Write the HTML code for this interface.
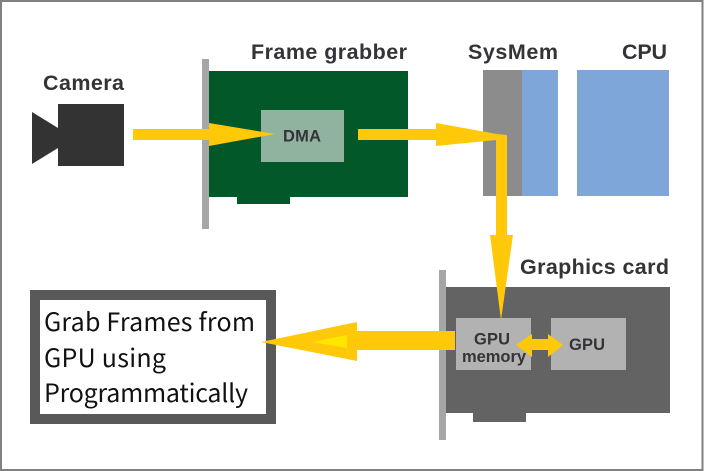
<!DOCTYPE html>
<html>
<head>
<meta charset="utf-8">
<style>
html,body{margin:0;padding:0;width:704px;height:471px;overflow:hidden;background:#fff}
svg{display:block}
.l{font-family:"Liberation Sans",sans-serif;font-weight:700;fill:#333338}
.t{font-family:"Noto Sans CJK JP","Liberation Sans",sans-serif;font-size:25px;fill:#111}
</style>
</head>
<body>
<svg width="704" height="471" viewBox="0 0 704 471" xmlns="http://www.w3.org/2000/svg">
<rect width="704" height="471" fill="#fff"/>
<rect x="1" y="1" width="701.5" height="469" fill="none" stroke="#808080" stroke-width="2"/>

<!-- Camera -->
<rect x="58" y="104" width="66" height="62" fill="#333333"/>
<polygon points="32,112 58,128 58,148 32,164" fill="#333333"/>
<text class="l" x="43" y="90" font-size="21.5" textLength="81" lengthAdjust="spacing">Camera</text>

<!-- Frame grabber -->
<rect x="202" y="59" width="7" height="170" fill="#a6a6a6"/>
<rect x="209" y="71" width="199" height="126" fill="#03582a"/>
<rect x="237" y="197" width="53" height="7" fill="#03582a"/>
<rect x="261" y="110" width="83" height="52" fill="#8fb39f"/>
<text class="l" x="283" y="141.5" font-size="16.5" textLength="38" lengthAdjust="spacing">DMA</text>
<text class="l" x="251" y="59" font-size="21.5" textLength="156" lengthAdjust="spacing">Frame grabber</text>

<!-- SysMem and CPU -->
<rect x="483" y="70" width="39" height="126" fill="#8c8c8c"/>
<rect x="522" y="70" width="36" height="126" fill="#7ea6d8"/>
<rect x="577" y="70" width="92" height="126" fill="#7ea6d8"/>
<text class="l" x="468" y="59" font-size="21.5" textLength="90" lengthAdjust="spacing">SysMem</text>
<text class="l" x="622" y="59" font-size="21.5" textLength="45" lengthAdjust="spacing">CPU</text>

<!-- Graphics card -->
<rect x="439" y="270" width="7" height="170" fill="#a6a6a6"/>
<rect x="446" y="287" width="224" height="126" fill="#636363"/>
<rect x="473" y="413" width="53" height="9" fill="#636363"/>
<rect x="456" y="318" width="75" height="52" fill="#b2b2b2"/>
<rect x="551" y="318" width="75" height="52" fill="#b2b2b2"/>
<text class="l" x="520" y="274" font-size="21.5" textLength="149" lengthAdjust="spacing">Graphics card</text>
<text class="l" x="474" y="344.5" font-size="16.5" textLength="36" lengthAdjust="spacing">GPU</text>
<text class="l" x="462" y="362" font-size="16.5" textLength="64" lengthAdjust="spacing">memory</text>
<text class="l" x="569" y="350" font-size="16.5" textLength="36" lengthAdjust="spacing">GPU</text>

<!-- Output box -->
<rect x="35" y="295" width="236" height="124" fill="#fff" stroke="#595959" stroke-width="10"/>
<text class="t" x="44" y="331" textLength="211" lengthAdjust="spacing">Grab Frames from</text>
<text class="t" x="44" y="367" textLength="122" lengthAdjust="spacing">GPU using</text>
<text class="t" x="44" y="402" textLength="204" lengthAdjust="spacing">Programmatically</text>

<!-- Arrows -->
<polygon points="133,129 209,129 209,123 275,134 209,146 209,140 133,140" fill="#ffc90a"/>
<polygon points="358,129 436,129 436,123 497,134 507,135 507,235 513,235 501,320 490,235 496,235 496,140 436,146 436,140 358,140" fill="#ffc90a"/>
<polygon points="455,331 357,331 357,322 261,342 357,361 357,350 455,350" fill="#ffc90a"/>
<polygon points="312,342 347,335 347,348" fill="#ffe600"/>
<polygon points="516,345 532,334 532,339 548,339 548,334 563,345 548,357 548,350 532,350 532,357" fill="#ffc90a"/>
</svg>
</body>
</html>
